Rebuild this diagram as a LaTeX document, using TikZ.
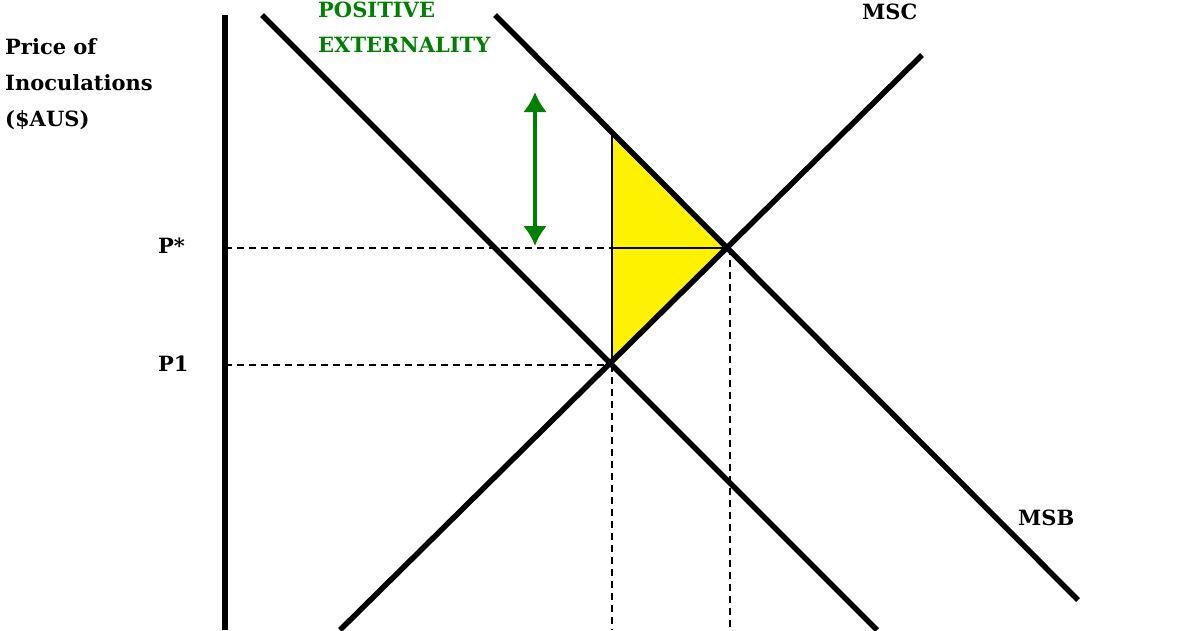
\documentclass[tikz,border=0pt]{standalone}
\usepackage{fontspec}
\setmainfont{DejaVu Serif}
\usetikzlibrary{arrows.meta}
\begin{document}
\begin{tikzpicture}[x=1pt,y=-1pt,
  curve/.style={line width=5.5pt},
  guide/.style={line width=1.6pt,dash pattern=on 7pt off 5pt},
  lbl/.style={font=\fontsize{21}{36}\selectfont\bfseries,inner sep=0pt},
  ext/.style={lbl,text=green!50!black}]
\useasboundingbox (0,0) rectangle (1200,630);
\coordinate (A) at (612,365);
\coordinate (B) at (730,248);
\coordinate (C) at (612,132);
\fill[yellow] (C) -- (A) -- (B) -- cycle;
\draw[line width=1.5pt] (C) -- (A);
\draw[line width=1.5pt] (612,248) -- (B);
\draw[line width=6pt] (225,15) -- (225,630);
\draw[guide] (225,248) -- (612,248);
\draw[guide] (225,365) -- (A);
\draw[guide] (A) -- (612,630);
\draw[guide] (B) -- (730,630);
\draw[curve] (262,15) -- (877,630);
\draw[curve] (495,15) -- (1078,600);
\draw[curve] (340,630) -- (922,55);
\draw[green!50!black,line width=4.5pt,-{Latex[length=20pt,width=24pt]}] (535,170) -- (535,92);
\draw[green!50!black,line width=4.5pt,-{Latex[length=20pt,width=24pt]}] (535,170) -- (535,246);
\node[lbl,anchor=west,align=left] (ylab) at (5,84) {Price of\\Inoculations\\(\$AUS)};
\node[lbl,anchor=west] (ps) at (158,246) {P*};
\node[lbl,anchor=west] (p1) at (158,364) {P1};
\node[lbl,anchor=west] (msc) at (862,12) {MSC};
\node[lbl,anchor=west] (msb) at (1018,518) {MSB};
\node[ext,anchor=west] (e1) at (318,10) {POSITIVE};
\node[ext,anchor=west] (e2) at (318,45) {EXTERNALITY};
\end{tikzpicture}
\end{document}
